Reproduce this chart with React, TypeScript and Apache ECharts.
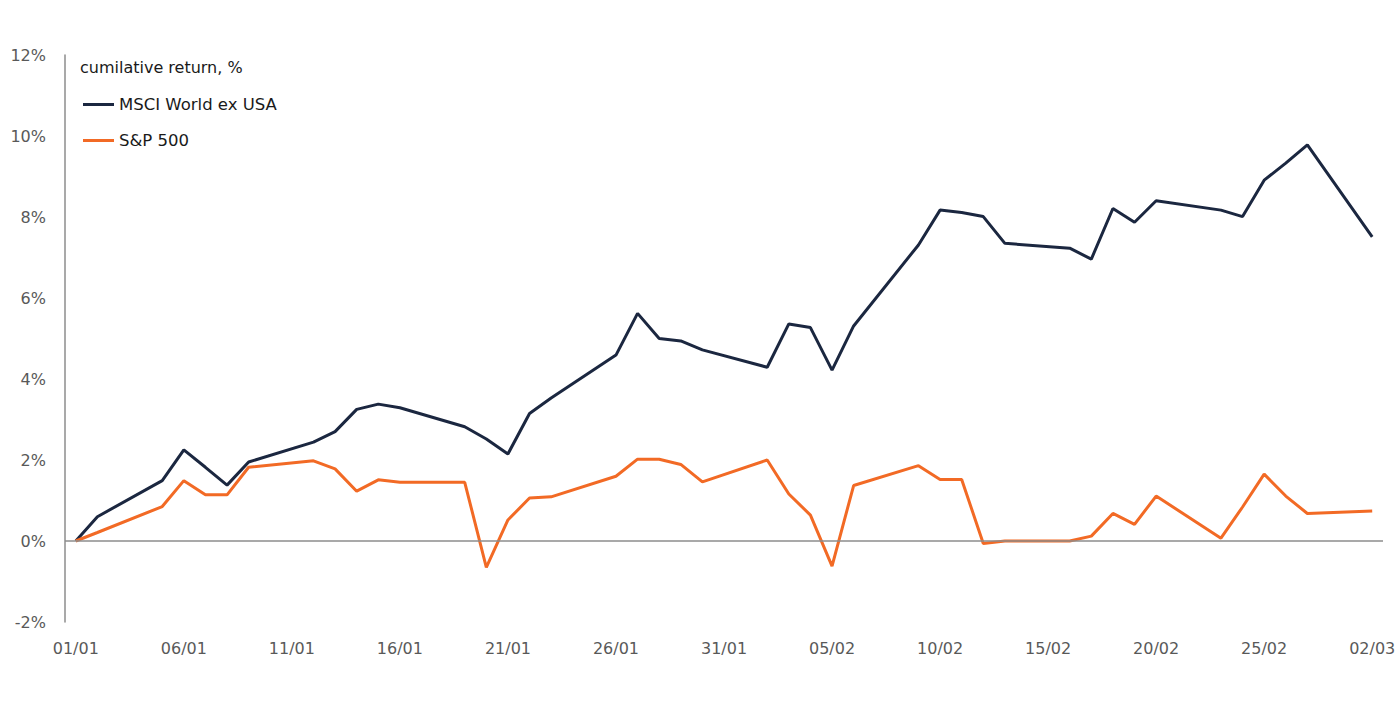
import React, { useEffect, useRef } from "react";
import * as echarts from "echarts";

const categories: string[] = [
  "01/01", "02/01", "03/01", "04/01", "05/01", "06/01", "07/01", "08/01", "09/01", "10/01",
  "11/01", "12/01", "13/01", "14/01", "15/01", "16/01", "17/01", "18/01", "19/01", "20/01",
  "21/01", "22/01", "23/01", "24/01", "25/01", "26/01", "27/01", "28/01", "29/01", "30/01",
  "31/01", "01/02", "02/02", "03/02", "04/02", "05/02", "06/02", "07/02", "08/02", "09/02",
  "10/02", "11/02", "12/02", "13/02", "14/02", "15/02", "16/02", "17/02", "18/02", "19/02",
  "20/02", "21/02", "22/02", "23/02", "24/02", "25/02", "26/02", "27/02", "28/02", "01/03",
  "02/03",
];

const msciWorldExUsa: (number | null)[] = [
  0, 0.6, null, null, 1.49, 2.25, 1.82, 1.38, 1.95, null,
  null, 2.44, 2.7, 3.25, 3.38, 3.29, null, null, 2.82, 2.52,
  2.15, 3.15, 3.53, null, null, 4.59, 5.62, 5.0, 4.94, 4.72,
  null, null, 4.29, 5.36, 5.27, 4.22, 5.31, null, null, 7.31,
  8.17, 8.11, 8.01, 7.35, null, null, 7.23, 6.96, 8.21, 7.87,
  8.4, null, null, 8.17, 8.01, 8.91, 9.33, 9.78, null, null,
  7.51,
];

const sp500: (number | null)[] = [
  0, 0.21, null, null, 0.85, 1.49, 1.14, 1.14, 1.82, null,
  null, 1.98, 1.78, 1.23, 1.51, 1.45, null, null, 1.45, -0.65,
  0.52, 1.06, 1.09, null, null, 1.6, 2.02, 2.02, 1.89, 1.46,
  null, null, 2.0, 1.16, 0.64, -0.62, 1.37, null, null, 1.86,
  1.52, 1.52, -0.06, 0.0, null, null, 0.0, 0.12, 0.68, 0.41,
  1.11, null, null, 0.07, 0.84, 1.65, 1.11, 0.68, null, null,
  0.74,
];

const seriesNames = ["MSCI World ex USA", "S&P 500"];
const chartTitle = "cumilative return, %";

const FONT = "DejaVu Sans";
const NAVY = "#1b2740";
const ORANGE = "#f26a25";

export default function App() {
  const ref = useRef<HTMLDivElement>(null);

  useEffect(() => {
    if (!ref.current) return;
    const chart = echarts.init(ref.current, null, { renderer: "svg" });
    chart.setOption({
      animation: false,
      backgroundColor: "#ffffff",
      textStyle: { fontFamily: FONT },
      grid: { left: 65, right: 17, top: 55, bottom: 85, containLabel: false },
      graphic: [
        {
          type: "text",
          left: 80,
          top: 59,
          style: { text: chartTitle, fontSize: 16, fontFamily: FONT, fill: "#1a1a1a" },
        },
      ],
      legend: {
        orient: "vertical",
        left: 78,
        top: 91,
        padding: 5,
        itemGap: 19,
        itemWidth: 31,
        itemHeight: 3,
        icon: "rect",
        data: seriesNames,
        textStyle: { fontSize: 16.5, color: "#1a1a1a", fontFamily: FONT },
      },
      xAxis: {
        type: "category",
        data: categories,
        boundaryGap: true,
        axisLine: { show: false },
        axisTick: { show: false },
        axisLabel: {
          interval: 4,
          color: "#595959",
          fontSize: 16,
          fontFamily: FONT,
          margin: 18,
        },
        splitLine: { show: false },
      },
      yAxis: {
        type: "value",
        min: -2,
        max: 12,
        interval: 2,
        axisLine: { show: true, lineStyle: { color: "#8c8c8c", width: 1.5 } },
        axisTick: { show: false },
        splitLine: { show: false },
        axisLabel: {
          color: "#595959",
          fontSize: 16,
          fontFamily: FONT,
          margin: 19,
          formatter: (v: number) => `${v}%`,
        },
      },
      series: [
        {
          name: seriesNames[0],
          type: "line",
          data: msciWorldExUsa,
          connectNulls: true,
          showSymbol: false,
          symbol: "none",
          lineStyle: { color: NAVY, width: 3 },
          itemStyle: { color: NAVY },
          z: 3,
          markLine: {
            silent: true,
            symbol: "none",
            label: { show: false },
            lineStyle: { color: "#8c8c8c", type: "solid", width: 1.5 },
            data: [{ yAxis: 0 }],
          },
        },
        {
          name: seriesNames[1],
          type: "line",
          data: sp500,
          connectNulls: true,
          showSymbol: false,
          symbol: "none",
          lineStyle: { color: ORANGE, width: 3 },
          itemStyle: { color: ORANGE },
          z: 4,
        },
      ],
    });
    return () => chart.dispose();
  }, []);

  return (
    <div
      ref={ref}
      style={{ position: "fixed", left: 0, top: 0, width: 1400, height: 707, background: "#fff" }}
    />
  );
}
